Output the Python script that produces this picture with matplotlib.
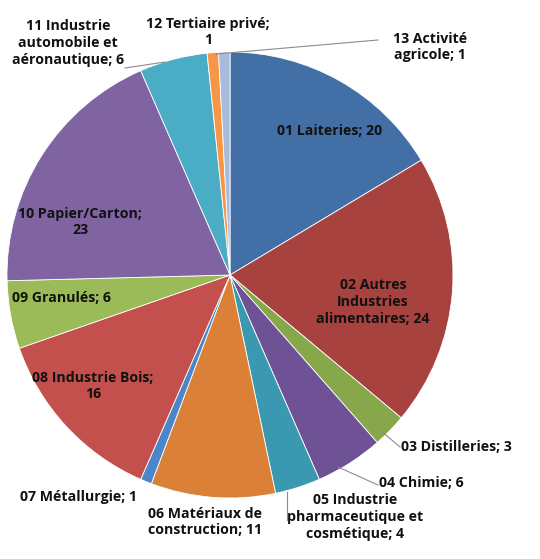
import matplotlib
matplotlib.use('Agg')
import matplotlib.pyplot as plt

# ── data ─────────────────────────────────────────────────────────────────────
categories = ['01 Laiteries', '02 Autres Industries alimentaires', '03 Distilleries',
              '04 Chimie', '05 Industrie pharmaceutique et cosmétique',
              '06 Matériaux de construction', '07 Métallurgie', '08 Industrie Bois',
              '09 Granulés', '10 Papier/Carton', '11 Industrie automobile et aéronautique',
              '12 Tertiaire privé', '13 Activité agricole']
values = [20, 24, 3, 6, 4, 11, 1, 16, 6, 23, 6, 1, 1]
colors = ['#416fa6', '#a8423f', '#86a84a', '#6e5295', '#3a98b0', '#da8137',
          '#4a86c8', '#c4504d', '#9bbb59', '#8064a2', '#4bacc6', '#f79646', '#a9bbdc']

# label text (as written on the chart) and pixel position of its centre
label_text = ['01 Laiteries; 20', '02 Autres\nIndustries\nalimentaires; 24',
              '03 Distilleries; 3', '04 Chimie; 6',
              '05 Industrie\npharmaceutique et\ncosmétique; 4',
              '06 Matériaux de\nconstruction; 11', '07 Métallurgie; 1',
              '08 Industrie Bois;\n16', '09 Granulés; 6', '10 Papier/Carton;\n23',
              '11 Industrie\nautomobile et\naéronautique; 6',
              '12 Tertiaire privé;\n1', '13 Activité\nagricole; 1']
label_pos = [(330, 131), (373, 302), (456, 447), (421, 483), (355, 517),
             (205, 522), (78, 497), (93, 386), (62, 298), (80, 222),
             (68, 43), (208, 32), (430, 47)]
# leader lines (pixel coords) for outside labels
leaders = [((380, 430), (400, 447)), ((338, 467), (378, 485)),
           ((287, 492), (287, 520)), ((165, 62), (125, 68)),
           ((216, 54), (378, 40))]

W, H = 540, 559
fig = plt.figure(figsize=(W / 100, H / 100), dpi=100)
fig.patch.set_facecolor('white')
ax = fig.add_axes([0, 0, 1, 1])

ax.pie(values, colors=colors, startangle=90, counterclock=False,
       center=(230, H - 275), radius=223, frame=True,
       wedgeprops=dict(edgecolor='white', linewidth=0.6))
ax.set_xlim(0, W)
ax.set_ylim(0, H)
ax.set_aspect('auto')
ax.axis('off')

font = dict(family=['Open Sans', 'DejaVu Sans'], fontsize=10.2,
            fontweight='bold', color='#111111', linespacing=1.25)
for txt, (x, y) in zip(label_text, label_pos):
    ax.text(x, H - y, txt, ha='center', va='center', **font)

for (x1, y1), (x2, y2) in leaders:
    ax.plot([x1, x2], [H - y1, H - y2], color='#8c8c8c', lw=0.8)

fig.savefig('out.png', dpi=100, facecolor='white')
